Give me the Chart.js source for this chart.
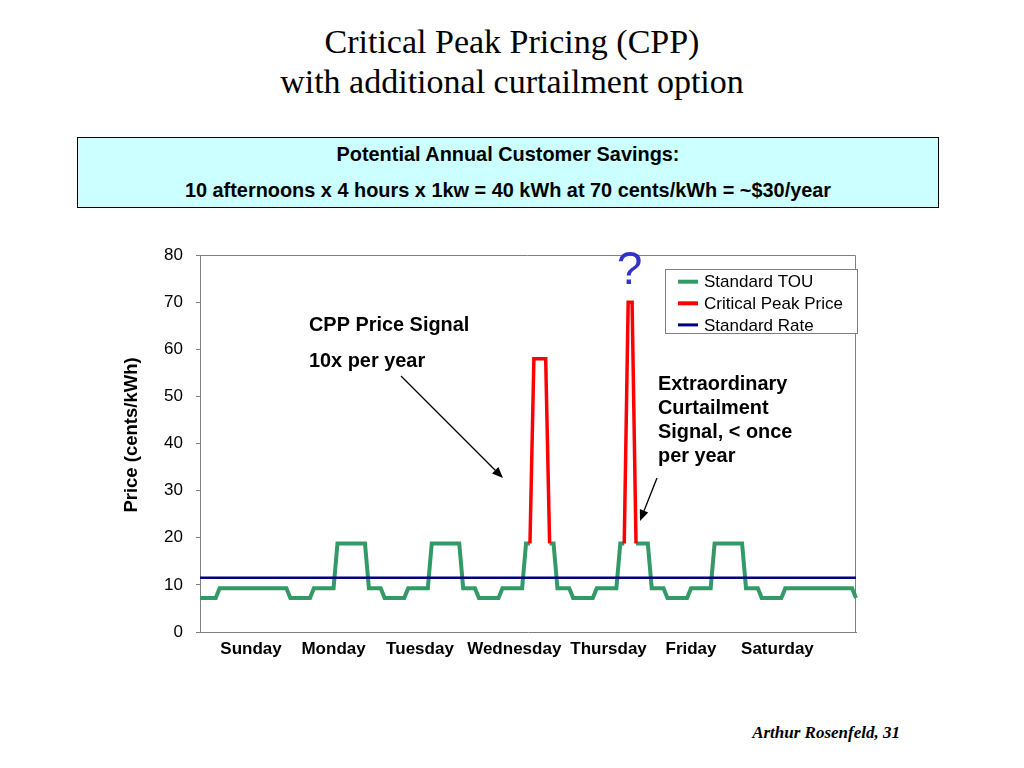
<!DOCTYPE html>
<html>
<head>
<meta charset="utf-8">
<title>Critical Peak Pricing (CPP)</title>
<script src="https://cdn.jsdelivr.net/npm/chart.js@4.4.1/dist/chart.umd.min.js"></script>
<style>
  html, body { margin: 0; padding: 0; background: #fff; }
  body { width: 1024px; height: 768px; position: relative; overflow: hidden;
         font-family: "Liberation Sans", Arial, sans-serif; color: #000; }
  #title { position: absolute; left: 0; top: 22px; width: 1024px; text-align: center;
           font-family: "Liberation Serif", "Times New Roman", serif; font-size: 34px; line-height: 40px; }
  #savings { position: absolute; left: 77px; top: 137px; width: 862px; height: 71px; box-sizing: border-box;
             border: 1.5px solid #000; background: #ccffff; font-weight: bold; font-size: 19.9px; text-align: center; }
  #savings div { position: absolute; left: 0; width: 100%; line-height: 24px; }
  #footer { position: absolute; right: 124px; top: 722px; font-family: "Liberation Serif", "Times New Roman", serif;
            font-style: italic; font-weight: bold; font-size: 17px; line-height: 22px; }
  #chart { position: absolute; left: 0; top: 0; }
</style>
</head>
<body>
<div id="title">Critical Peak Pricing (CPP)<br>with additional curtailment option</div>
<div id="savings">
  <div style="top:3.5px">Potential Annual Customer Savings:</div>
  <div style="top:40px">10 afternoons x 4 hours x 1kw = 40 kWh at 70 cents/kWh = ~$30/year</div>
</div>
<div id="footer">Arthur Rosenfeld, 31</div>
<canvas id="chart" width="1024" height="768"></canvas>

<script>
const FONT = '"Liberation Sans", Arial, sans-serif';

const days = ['Sunday', 'Monday', 'Tuesday', 'Wednesday', 'Thursday', 'Friday', 'Saturday'];
const hours = [0, 1, 2, 3, 4, 5, 6, 7, 8, 9, 10, 11, 12, 13, 14, 15, 16, 17, 18, 19, 20, 21, 22, 23];
// hour of the day whose category row carries the day name
const dayLabelHour = [13, 10, 8, 8, 8, 5, 3];

// Standard TOU price (cents/kWh), one value per hour; null where the CPP price takes over
const touSun = [7.2, 7.2, 7.2, 7.2, 7.2, 9.3, 9.3, 9.3, 9.3, 9.3, 9.3, 9.3, 9.3, 9.3, 9.3, 9.3, 9.3, 9.3, 9.3, 9.3, 9.3, 9.3, 9.3, 7.2];
const touMon = [7.2, 7.2, 7.2, 7.2, 7.2, 9.3, 9.3, 9.3, 9.3, 9.3, 9.3, 18.8, 18.8, 18.8, 18.8, 18.8, 18.8, 18.8, 18.8, 9.3, 9.3, 9.3, 9.3, 7.2];
const touTue = [7.2, 7.2, 7.2, 7.2, 7.2, 9.3, 9.3, 9.3, 9.3, 9.3, 9.3, 18.8, 18.8, 18.8, 18.8, 18.8, 18.8, 18.8, 18.8, 9.3, 9.3, 9.3, 9.3, 7.2];
const touWed = [7.2, 7.2, 7.2, 7.2, 7.2, 9.3, 9.3, 9.3, 9.3, 9.3, 9.3, 18.8, 18.8, null, null, null, null, 18.8, 18.8, 9.3, 9.3, 9.3, 9.3, 7.2];
const touThu = [7.2, 7.2, 7.2, 7.2, 7.2, 9.3, 9.3, 9.3, 9.3, 9.3, 9.3, 18.8, 18.8, null, null, 18.8, 18.8, 18.8, 18.8, 9.3, 9.3, 9.3, 9.3, 7.2];
const touFri = [7.2, 7.2, 7.2, 7.2, 7.2, 9.3, 9.3, 9.3, 9.3, 9.3, 9.3, 18.8, 18.8, 18.8, 18.8, 18.8, 18.8, 18.8, 18.8, 9.3, 9.3, 9.3, 9.3, 7.2];
const touSat = [7.2, 7.2, 7.2, 7.2, 7.2, 9.3, 9.3, 9.3, 9.3, 9.3, 9.3, 9.3, 9.3, 9.3, 9.3, 9.3, 9.3, 9.3, 9.3, 9.3, 9.3, 9.3, 9.3, 7.2];

// Critical peak price (cents/kWh): a CPP day on Wednesday, the curtailment signal on Thursday
const cppNone = [null, null, null, null, null, null, null, null, null, null, null, null, null, null, null, null, null, null, null, null, null, null, null, null];
const cppWed = [null, null, null, null, null, null, null, null, null, null, null, null, 18.8, 58, 58, 58, 58, 18.8, null, null, null, null, null, null];
const cppThu = [null, null, null, null, null, null, null, null, null, null, null, null, 18.8, 70, 70, 18.8, null, null, null, null, null, null, null, null];

// Standard flat rate (cents/kWh)
const rateDay = [11.5, 11.5, 11.5, 11.5, 11.5, 11.5, 11.5, 11.5, 11.5, 11.5, 11.5, 11.5, 11.5, 11.5, 11.5, 11.5, 11.5, 11.5, 11.5, 11.5, 11.5, 11.5, 11.5, 11.5];

const yTicks = [0, 10, 20, 30, 40, 50, 60, 70, 80];

const touWeek = [].concat(touSun, touMon, touTue, touWed, touThu, touFri, touSat);
const cppWeek = [].concat(cppNone, cppNone, cppNone, cppWed, cppThu, cppNone, cppNone);
const rateWeek = [].concat(rateDay, rateDay, rateDay, rateDay, rateDay, rateDay, rateDay);

// one category per hour, the day name on its labelled row
const hourLabels = [];
days.forEach((d, i) => hours.forEach(h => hourLabels.push(h === dayLabelHour[i] ? d : '')));

const frame = {
    id: 'frame',
    beforeDatasetsDraw(chart) {
        const { ctx, chartArea: a } = chart;
        ctx.save();
        ctx.strokeStyle = '#808080';
        ctx.lineWidth = 1;
        ctx.beginPath();
        ctx.moveTo(a.left, a.top + 0.5);
        ctx.lineTo(a.right - 0.5, a.top + 0.5);
        ctx.lineTo(a.right - 0.5, a.bottom);
        ctx.stroke();
        ctx.restore();
    }
};

function arrow(ctx, x1, y1, x2, y2) {
    const ang = Math.atan2(y2 - y1, x2 - x1);
    const len = 11, half = 4.5;
    const bx = x2 - len * Math.cos(ang), by = y2 - len * Math.sin(ang);
    ctx.beginPath();
    ctx.moveTo(x1, y1);
    ctx.lineTo(bx, by);
    ctx.stroke();
    ctx.beginPath();
    ctx.moveTo(x2, y2);
    ctx.lineTo(bx + half * Math.sin(ang), by - half * Math.cos(ang));
    ctx.lineTo(bx - half * Math.sin(ang), by + half * Math.cos(ang));
    ctx.closePath();
    ctx.fill();
}

const notes = {
    id: 'notes',
    afterDraw(chart) {
        const ctx = chart.ctx;
        ctx.save();

        // y axis title
        ctx.save();
        ctx.translate(131.5, 435);
        ctx.rotate(-Math.PI / 2);
        ctx.fillStyle = '#000';
        ctx.font = 'bold 18.5px ' + FONT;
        ctx.textAlign = 'center';
        ctx.textBaseline = 'middle';
        ctx.fillText('Price (cents/kWh)', 0, 0);
        ctx.restore();

        // legend box
        ctx.fillStyle = '#fff';
        ctx.fillRect(665, 269, 193, 65);
        ctx.strokeStyle = '#808080';
        ctx.lineWidth = 1;
        ctx.strokeRect(665.5, 269.5, 192, 64);
        ctx.font = '17px ' + FONT;
        ctx.textBaseline = 'middle';
        chart.data.datasets.forEach((ds, i) => {
            const y = 281.7 + i * 21.6;
            ctx.strokeStyle = ds.borderColor;
            ctx.lineWidth = i === 2 ? 3 : 4;
            ctx.beginPath();
            ctx.moveTo(678, y);
            ctx.lineTo(698, y);
            ctx.stroke();
            ctx.fillStyle = '#000';
            ctx.fillText(ds.label, 704, y + 1);
        });

        // annotations
        ctx.fillStyle = '#000';
        ctx.font = 'bold 19.9px ' + FONT;
        ctx.textAlign = 'left';
        ctx.fillText('CPP Price Signal', 309, 326);
        ctx.fillText('10x per year', 309, 362);
        ['Extraordinary', 'Curtailment', 'Signal, < once', 'per year'].forEach((t, i) => {
            ctx.fillText(t, 658, 385 + i * 24);
        });
        ctx.strokeStyle = '#000';
        ctx.lineWidth = 1.3;
        arrow(ctx, 401, 376, 503, 478);
        arrow(ctx, 657, 478, 640, 521);

        ctx.fillStyle = '#3333cc';
        ctx.font = '46px ' + FONT;
        ctx.textAlign = 'center';
        ctx.fillText('?', 629.5, 271);
        ctx.restore();
    }
};

new Chart(document.getElementById('chart'), {
    type: 'line',
    data: {
        labels: hourLabels,
        datasets: [{
            label: 'Standard TOU',
            data: touWeek,
            borderColor: '#339966',
            borderWidth: 4,
            order: 3
        }, {
            label: 'Critical Peak Price',
            data: cppWeek,
            borderColor: '#ff0000',
            borderWidth: 3.5,
            order: 2
        }, {
            label: 'Standard Rate',
            data: rateWeek,
            borderColor: '#000080',
            borderWidth: 2.5,
            order: 1
        }]
    },
    options: {
        responsive: false,
        devicePixelRatio: 1,
        animation: false,
        layout: { padding: { left: 120, top: 255, right: 168, bottom: 96 } },
        elements: { point: { radius: 0 }, line: { tension: 0 } },
        plugins: { legend: { display: false }, tooltip: { enabled: false } },
        scales: {
            x: {
                grid: { display: false },
                border: { display: true, color: '#808080', width: 1 },
                ticks: {
                    autoSkip: false, maxRotation: 0, minRotation: 0, padding: -1, color: '#000',
                    font: { family: FONT, size: 17, weight: 'bold' }
                },
                afterFit(scale) { scale.height = 40; }
            },
            y: {
                min: yTicks[0],
                max: yTicks[yTicks.length - 1],
                afterBuildTicks(scale) { scale.ticks = yTicks.map(v => ({ value: v })); },
                ticks: { padding: 13, color: '#000', font: { family: FONT, size: 17 } },
                grid: { drawOnChartArea: false, drawTicks: true, tickLength: 4, color: '#808080' },
                border: { color: '#808080', width: 1 },
                afterFit(scale) { scale.width = 80; }
            }
        }
    },
    plugins: [frame, notes]
});
</script>
</body>
</html>
